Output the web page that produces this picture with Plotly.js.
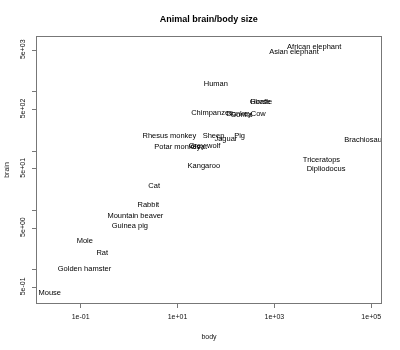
<!DOCTYPE html>
<html>
<head>
<meta charset="utf-8">
<script src="https://cdn.plot.ly/plotly-3.0.1.min.js"></script>
<style>
html,body{margin:0;padding:0;background:#fff;}
#chart{width:400px;height:350px;}
svg.main-svg{will-change:transform;}
svg text{-webkit-font-smoothing:antialiased;}
</style>
</head>
<body>
<div id="chart"></div>
<script>
const animals = ["Mountain beaver","Cow","Grey wolf","Goat","Guinea pig","Dipliodocus","Asian elephant","Donkey","Horse","Potar monkey","Cat","Giraffe","Gorilla","Human","African elephant","Triceratops","Rhesus monkey","Kangaroo","Golden hamster","Mouse","Rabbit","Sheep","Jaguar","Chimpanzee","Rat","Brachiosaurus","Mole","Pig"];
const body = [1.35,465,36.33,27.66,1.04,11700,2547,187.1,521,10,3.3,529,207,62,6654,9400,6.8,35,0.12,0.023,2.5,55.5,100,52.16,0.28,87000,0.122,192];
const brain = [8.1,423,119.5,115,5.5,50,4603,419,655,115,25.6,680,406,1320,5712,70,179,56,1,0.4,12.1,175,157,440,1.9,154.5,3,180];
const xTickVals = [0.1,10,1000,100000];
const xTickText = ["1e-01","1e+01","1e+03","1e+05"];
const yTickVals = [0.5,1,5,10,50,100,500,1000,5000];
const yTickText = ["5e-01","","5e+00","","5e+01","","5e+02","","5e+03"];

const font = "Liberation Sans, Arial, Helvetica, sans-serif";
const lx = body.map(Math.log10), ly = brain.map(Math.log10);
const xmin = Math.min(...lx), xmax = Math.max(...lx);
const ymin = Math.min(...ly), ymax = Math.max(...ly);
const px = (xmax - xmin) * 0.04, py = (ymax - ymin) * 0.04;

const trace = {
  x: body, y: brain, text: animals,
  mode: "text", type: "scatter",
  textposition: "middle center",
  textfont: {family: font, size: 7.5, color: "#000"},
  cliponaxis: true, hoverinfo: "none", showlegend: false
};

const axisCommon = {
  showline: true, mirror: true, linecolor: "#777", linewidth: 1,
  showgrid: false, zeroline: false, ticks: "outside", ticklen: 4,
  tickcolor: "#777", tickwidth: 1,
  tickfont: {family: font, size: 7, color: "#111"}
};

const layout = {
  width: 400, height: 350,
  margin: {l: 37, r: 19, t: 37, b: 47},
  paper_bgcolor: "#fff", plot_bgcolor: "#fff",
  title: {text: "Animal brain/body size", x: 0.522, xanchor: "center", y: 0.945, yanchor: "middle",
          font: {family: font, size: 9, color: "#000", weight: "bold"}},
  xaxis: Object.assign({}, axisCommon, {
    type: "log", range: [xmin - px, xmax + px],
    tickmode: "array", tickvals: xTickVals, ticktext: xTickText,
    ticklabelstandoff: 3,
    title: {text: "body", font: {family: font, size: 7, color: "#111"}, standoff: 14}
  }),
  yaxis: Object.assign({}, axisCommon, {
    type: "log", range: [ymin - py, ymax + py],
    tickmode: "array", tickvals: yTickVals, ticktext: yTickText,
    tickangle: -90, ticklabelstandoff: 4,
    title: {text: "brain", font: {family: font, size: 7, color: "#111"}, standoff: 8}
  })
};

Plotly.newPlot("chart", [trace], layout, {displayModeBar: false, staticPlot: true});
</script>
</body>
</html>
